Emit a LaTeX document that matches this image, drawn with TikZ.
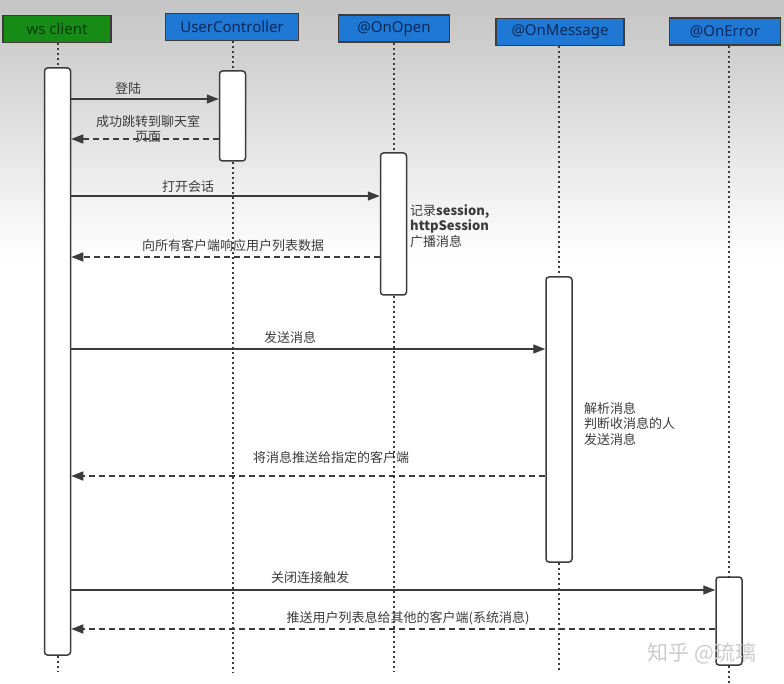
\documentclass[tikz,border=0pt]{standalone}
\usepackage{fontspec}
\setmainfont{Noto Sans}
\newfontfamily\cjk{Noto Sans CJK SC}
\usetikzlibrary{arrows.meta}
\definecolor{hdrblue}{RGB}{30,120,212}
\definecolor{hdrgreen}{RGB}{22,140,22}
\definecolor{ink}{RGB}{60,60,60}
\definecolor{bgtop}{RGB}{196,196,196}
\definecolor{bluetxt}{RGB}{12,42,90}
\definecolor{greentxt}{RGB}{8,60,8}
\begin{document}
\begin{tikzpicture}[x=1pt,y=-1pt,
  hdr/.style={draw=ink, line width=1.5pt, minimum height=27, inner sep=0,
              font=\fontsize{15}{15}\selectfont, fill=hdrblue, text=bluetxt},
  bar/.style={draw=ink, line width=1.5pt, fill=white, rounded corners=3pt,
              minimum width=26, inner sep=0},
  life/.style={draw=ink, line width=2pt, dash pattern=on 2pt off 3pt},
  msg/.style={draw=ink, line width=1.4pt, -{Triangle[length=12pt,width=9pt]}},
  ret/.style={msg, dash pattern=on 6pt off 4pt},
  lbl/.style={font=\cjk\fontsize{13}{15.5}\selectfont, text=ink, inner sep=0},
  note/.style={lbl, align=left, anchor=west}
]
\useasboundingbox (0,0) rectangle (784,684);
\shade[top color=bgtop, bottom color=white] (0,0) rectangle (784,260);
\fill[white] (0,260) rectangle (784,684);

% headers
\node[hdr, fill=hdrgreen, text=greentxt, minimum width=108] (hws) at (57,29) {ws client};
\node[hdr, minimum width=133] (huc) at (232,27) {UserController};
\node[hdr, minimum width=111] (hop) at (394,28.5) {@OnOpen};
\node[hdr, minimum width=128] (hme) at (560,32) {@OnMessage};
\node[hdr, minimum width=111] (her) at (725,31.5) {@OnError};

% activation bars
\node[bar, minimum height=587] (bws) at (57.5,361.5) {};
\node[bar, minimum height=90]  (buc) at (232.5,116) {};
\node[bar, minimum height=142] (bop) at (393.5,224) {};
\node[bar, minimum height=285] (bme) at (559,419.5) {};
\node[bar, minimum height=88]  (ber) at (729,621) {};

% lifeline ends
\coordinate (ews) at (57.5,672);
\coordinate (euc) at (232.5,672);
\coordinate (eop) at (393.5,672);
\coordinate (eme) at (559,672);
\coordinate (eer) at (729,684);

% lifelines
\draw[life] (hws.south -| bws) -- (bws.north);
\draw[life] (bws.south) -- (ews);
\draw[life] (huc.south -| buc) -- (buc.north);
\draw[life] (buc.south) -- (euc);
\draw[life] (hop.south -| bop) -- (bop.north);
\draw[life] (bop.south) -- (eop);
\draw[life] (hme.south -| bme) -- (bme.north);
\draw[life] (bme.south) -- (eme);
\draw[life] (her.south -| ber) -- (ber.north);
\draw[life] (ber.south) -- (eer);

% messages
\draw[msg] (bws.east |- 0,99) -- (buc.west |- 0,99);
\node[lbl] (l1) at (128,89) {登陆};
\draw[ret] (buc.west |- 0,139) -- (bws.east |- 0,139);
\node[lbl, align=center] (l2) at (148,129) {成功跳转到聊天室\\页面};

\draw[msg] (bws.east |- 0,196) -- (bop.west |- 0,196);
\node[lbl] (l3) at (188,187) {打开会话};
\draw[ret] (bop.west |- 0,257) -- (bws.east |- 0,257);
\node[lbl] (l4) at (233,246) {向所有客户端响应用户列表数据};
\node[note] (n1) at (410,226) {记录\textbf{session,}\\\textbf{httpSession}\\广播消息};

\draw[msg] (bws.east |- 0,349) -- (bme.west |- 0,349);
\node[lbl] (l5) at (290,338) {发送消息};
\draw[ret] (bme.west |- 0,476) -- (bws.east |- 0,476);
\node[lbl] (l6) at (331,458) {将消息推送给指定的客户端};
\node[note] (n2) at (584,424) {解析消息\\判断收消息的人\\发送消息};

\draw[msg] (bws.east |- 0,590) -- (ber.west |- 0,590);
\node[lbl] (l7) at (310,578) {关闭连接触发};
\draw[ret] (ber.west |- 0,629) -- (bws.east |- 0,629);
\node[lbl] (l8) at (408,618) {推送用户列表息给其他的客户端(系统消息)};

% watermark
\node[font=\cjk\fontsize{21}{21}\selectfont, text=gray!40, inner sep=0] (wm) at (702,653) {知乎 @琉璃};
\end{tikzpicture}
\end{document}
